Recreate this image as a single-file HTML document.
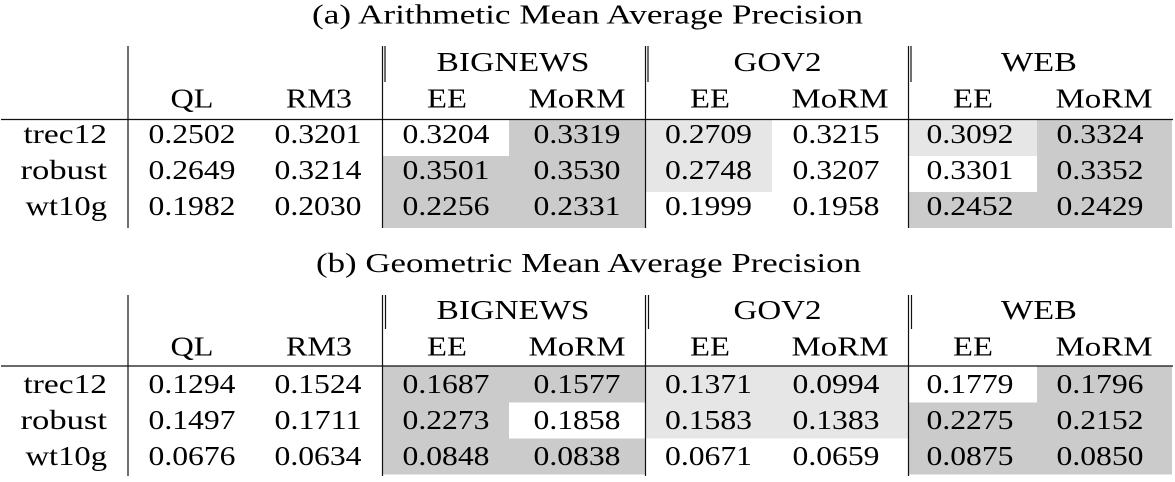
<!DOCTYPE html>
<html>
<head>
<meta charset="utf-8">
<style>
html,body{margin:0;padding:0;background:#fff;}
svg{display:block;}
text{font-family:"Liberation Serif","DejaVu Serif",serif;font-size:27px;fill:#000;}
</style>
</head>
<body>
<svg width="1175" height="482" viewBox="0 0 1175 482" xmlns="http://www.w3.org/2000/svg">
<!-- ============ TABLE A ============ -->
<!-- shading -->
<g>
  <!-- trec12 row -->
  <rect x="509" y="120" width="136" height="36" fill="#cbcbcb"/>
  <rect x="646" y="120" width="126" height="36" fill="#e6e6e6"/>
  <rect x="909" y="120" width="128" height="36" fill="#e6e6e6"/>
  <rect x="1037" y="120" width="135" height="36" fill="#cbcbcb"/>
  <!-- robust row -->
  <rect x="383" y="156" width="262" height="36" fill="#cbcbcb"/>
  <rect x="646" y="156" width="126" height="36" fill="#e6e6e6"/>
  <rect x="1037" y="156" width="135" height="36" fill="#cbcbcb"/>
  <!-- wt10g row -->
  <rect x="383" y="192" width="262" height="36" fill="#cbcbcb"/>
  <rect x="909" y="192" width="263" height="36" fill="#cbcbcb"/>
</g>
<!-- rules -->
<g stroke="#111" stroke-width="1.2">
  <line x1="1" y1="119.5" x2="1173" y2="119.5"/>
  <line x1="128" y1="46" x2="128" y2="228"/>
  <line x1="382.5" y1="46" x2="382.5" y2="228"/>
  <line x1="385" y1="46" x2="385" y2="82"/>
  <line x1="645.5" y1="46" x2="645.5" y2="228"/>
  <line x1="648" y1="46" x2="648" y2="82"/>
  <line x1="908.5" y1="46" x2="908.5" y2="228"/>
  <line x1="911" y1="46" x2="911" y2="82"/>
</g>
<!-- title -->
<text x="587.5" y="23.5" text-anchor="middle" textLength="551" lengthAdjust="spacingAndGlyphs">(a) Arithmetic Mean Average Precision</text>
<!-- header row 1 -->
<text x="513" y="71" text-anchor="middle" textLength="153" lengthAdjust="spacingAndGlyphs">BIGNEWS</text>
<text x="777.5" y="71" text-anchor="middle" textLength="88" lengthAdjust="spacingAndGlyphs">GOV2</text>
<text x="1039" y="71" text-anchor="middle" textLength="76" lengthAdjust="spacingAndGlyphs">WEB</text>
<!-- header row 2 -->
<text x="192" y="107.5" text-anchor="middle" textLength="43" lengthAdjust="spacingAndGlyphs">QL</text>
<text x="319" y="107.5" text-anchor="middle" textLength="66" lengthAdjust="spacingAndGlyphs">RM3</text>
<text x="447" y="107.5" text-anchor="middle" textLength="40" lengthAdjust="spacingAndGlyphs">EE</text>
<text x="577" y="107.5" text-anchor="middle" textLength="97" lengthAdjust="spacingAndGlyphs">MoRM</text>
<text x="710" y="107.5" text-anchor="middle" textLength="40" lengthAdjust="spacingAndGlyphs">EE</text>
<text x="840" y="107.5" text-anchor="middle" textLength="97" lengthAdjust="spacingAndGlyphs">MoRM</text>
<text x="973" y="107.5" text-anchor="middle" textLength="40" lengthAdjust="spacingAndGlyphs">EE</text>
<text x="1104" y="107.5" text-anchor="middle" textLength="97" lengthAdjust="spacingAndGlyphs">MoRM</text>
<!-- data rows -->
<g text-anchor="end">
  <text x="107" y="143" textLength="83.5" lengthAdjust="spacingAndGlyphs">trec12</text>
  <text x="107" y="179" textLength="86.5" lengthAdjust="spacingAndGlyphs">robust</text>
  <text x="107" y="215" textLength="81.5" lengthAdjust="spacingAndGlyphs">wt10g</text>
</g>
<g text-anchor="middle">
  <text x="192" y="143" textLength="87" lengthAdjust="spacingAndGlyphs">0.2502</text>
  <text x="318" y="143" textLength="87" lengthAdjust="spacingAndGlyphs">0.3201</text>
  <text x="446" y="143" textLength="87" lengthAdjust="spacingAndGlyphs">0.3204</text>
  <text x="577" y="143" textLength="87" lengthAdjust="spacingAndGlyphs">0.3319</text>
  <text x="708.5" y="143" textLength="87" lengthAdjust="spacingAndGlyphs">0.2709</text>
  <text x="836" y="143" textLength="87" lengthAdjust="spacingAndGlyphs">0.3215</text>
  <text x="970" y="143" textLength="87" lengthAdjust="spacingAndGlyphs">0.3092</text>
  <text x="1100" y="143" textLength="87" lengthAdjust="spacingAndGlyphs">0.3324</text>

  <text x="192" y="179" textLength="87" lengthAdjust="spacingAndGlyphs">0.2649</text>
  <text x="318" y="179" textLength="87" lengthAdjust="spacingAndGlyphs">0.3214</text>
  <text x="446" y="179" textLength="87" lengthAdjust="spacingAndGlyphs">0.3501</text>
  <text x="577" y="179" textLength="87" lengthAdjust="spacingAndGlyphs">0.3530</text>
  <text x="708.5" y="179" textLength="87" lengthAdjust="spacingAndGlyphs">0.2748</text>
  <text x="836" y="179" textLength="87" lengthAdjust="spacingAndGlyphs">0.3207</text>
  <text x="970" y="179" textLength="87" lengthAdjust="spacingAndGlyphs">0.3301</text>
  <text x="1100" y="179" textLength="87" lengthAdjust="spacingAndGlyphs">0.3352</text>

  <text x="192" y="215" textLength="87" lengthAdjust="spacingAndGlyphs">0.1982</text>
  <text x="318" y="215" textLength="87" lengthAdjust="spacingAndGlyphs">0.2030</text>
  <text x="446" y="215" textLength="87" lengthAdjust="spacingAndGlyphs">0.2256</text>
  <text x="577" y="215" textLength="87" lengthAdjust="spacingAndGlyphs">0.2331</text>
  <text x="708.5" y="215" textLength="87" lengthAdjust="spacingAndGlyphs">0.1999</text>
  <text x="836" y="215" textLength="87" lengthAdjust="spacingAndGlyphs">0.1958</text>
  <text x="970" y="215" textLength="87" lengthAdjust="spacingAndGlyphs">0.2452</text>
  <text x="1100" y="215" textLength="87" lengthAdjust="spacingAndGlyphs">0.2429</text>
</g>

<!-- ============ TABLE B ============ -->
<g>
  <!-- trec12 -->
  <rect x="383" y="366.5" width="262" height="36" fill="#cbcbcb"/>
  <rect x="646" y="366.5" width="262" height="36" fill="#e6e6e6"/>
  <rect x="1037" y="366.5" width="135" height="36" fill="#cbcbcb"/>
  <!-- robust -->
  <rect x="383" y="402.5" width="126" height="36" fill="#cbcbcb"/>
  <rect x="646" y="402.5" width="262" height="36" fill="#e6e6e6"/>
  <rect x="909" y="402.5" width="263" height="36" fill="#cbcbcb"/>
  <!-- wt10g -->
  <rect x="383" y="438.5" width="262" height="36" fill="#cbcbcb"/>
  <rect x="909" y="438.5" width="263" height="36" fill="#cbcbcb"/>
</g>
<g stroke="#111" stroke-width="1.2">
  <line x1="1" y1="366" x2="1173" y2="366"/>
  <line x1="128" y1="295" x2="128" y2="476"/>
  <line x1="382.5" y1="295" x2="382.5" y2="476"/>
  <line x1="385.5" y1="295" x2="385.5" y2="329"/>
  <line x1="645.5" y1="295" x2="645.5" y2="476"/>
  <line x1="648.5" y1="295" x2="648.5" y2="329"/>
  <line x1="908.5" y1="295" x2="908.5" y2="476"/>
  <line x1="911.5" y1="295" x2="911.5" y2="329"/>
</g>
<text x="588.5" y="272" text-anchor="middle" textLength="545" lengthAdjust="spacingAndGlyphs">(b) Geometric Mean Average Precision</text>
<text x="513" y="319" text-anchor="middle" textLength="153" lengthAdjust="spacingAndGlyphs">BIGNEWS</text>
<text x="777.5" y="319" text-anchor="middle" textLength="88" lengthAdjust="spacingAndGlyphs">GOV2</text>
<text x="1039" y="319" text-anchor="middle" textLength="76" lengthAdjust="spacingAndGlyphs">WEB</text>

<text x="192" y="355.5" text-anchor="middle" textLength="43" lengthAdjust="spacingAndGlyphs">QL</text>
<text x="319" y="355.5" text-anchor="middle" textLength="66" lengthAdjust="spacingAndGlyphs">RM3</text>
<text x="447" y="355.5" text-anchor="middle" textLength="40" lengthAdjust="spacingAndGlyphs">EE</text>
<text x="577" y="355.5" text-anchor="middle" textLength="97" lengthAdjust="spacingAndGlyphs">MoRM</text>
<text x="710" y="355.5" text-anchor="middle" textLength="40" lengthAdjust="spacingAndGlyphs">EE</text>
<text x="840" y="355.5" text-anchor="middle" textLength="97" lengthAdjust="spacingAndGlyphs">MoRM</text>
<text x="973" y="355.5" text-anchor="middle" textLength="40" lengthAdjust="spacingAndGlyphs">EE</text>
<text x="1104" y="355.5" text-anchor="middle" textLength="97" lengthAdjust="spacingAndGlyphs">MoRM</text>

<g text-anchor="end">
  <text x="107" y="393" textLength="83.5" lengthAdjust="spacingAndGlyphs">trec12</text>
  <text x="107" y="429" textLength="86.5" lengthAdjust="spacingAndGlyphs">robust</text>
  <text x="107" y="465" textLength="81.5" lengthAdjust="spacingAndGlyphs">wt10g</text>
</g>
<g text-anchor="middle">
  <text x="192" y="393" textLength="87" lengthAdjust="spacingAndGlyphs">0.1294</text>
  <text x="318" y="393" textLength="87" lengthAdjust="spacingAndGlyphs">0.1524</text>
  <text x="446" y="393" textLength="87" lengthAdjust="spacingAndGlyphs">0.1687</text>
  <text x="577" y="393" textLength="87" lengthAdjust="spacingAndGlyphs">0.1577</text>
  <text x="708.5" y="393" textLength="87" lengthAdjust="spacingAndGlyphs">0.1371</text>
  <text x="836" y="393" textLength="87" lengthAdjust="spacingAndGlyphs">0.0994</text>
  <text x="970" y="393" textLength="87" lengthAdjust="spacingAndGlyphs">0.1779</text>
  <text x="1100" y="393" textLength="87" lengthAdjust="spacingAndGlyphs">0.1796</text>

  <text x="192" y="429" textLength="87" lengthAdjust="spacingAndGlyphs">0.1497</text>
  <text x="318" y="429" textLength="87" lengthAdjust="spacingAndGlyphs">0.1711</text>
  <text x="446" y="429" textLength="87" lengthAdjust="spacingAndGlyphs">0.2273</text>
  <text x="577" y="429" textLength="87" lengthAdjust="spacingAndGlyphs">0.1858</text>
  <text x="708.5" y="429" textLength="87" lengthAdjust="spacingAndGlyphs">0.1583</text>
  <text x="836" y="429" textLength="87" lengthAdjust="spacingAndGlyphs">0.1383</text>
  <text x="970" y="429" textLength="87" lengthAdjust="spacingAndGlyphs">0.2275</text>
  <text x="1100" y="429" textLength="87" lengthAdjust="spacingAndGlyphs">0.2152</text>

  <text x="192" y="465" textLength="87" lengthAdjust="spacingAndGlyphs">0.0676</text>
  <text x="318" y="465" textLength="87" lengthAdjust="spacingAndGlyphs">0.0634</text>
  <text x="446" y="465" textLength="87" lengthAdjust="spacingAndGlyphs">0.0848</text>
  <text x="577" y="465" textLength="87" lengthAdjust="spacingAndGlyphs">0.0838</text>
  <text x="708.5" y="465" textLength="87" lengthAdjust="spacingAndGlyphs">0.0671</text>
  <text x="836" y="465" textLength="87" lengthAdjust="spacingAndGlyphs">0.0659</text>
  <text x="970" y="465" textLength="87" lengthAdjust="spacingAndGlyphs">0.0875</text>
  <text x="1100" y="465" textLength="87" lengthAdjust="spacingAndGlyphs">0.0850</text>
</g>
</svg>
</body>
</html>
